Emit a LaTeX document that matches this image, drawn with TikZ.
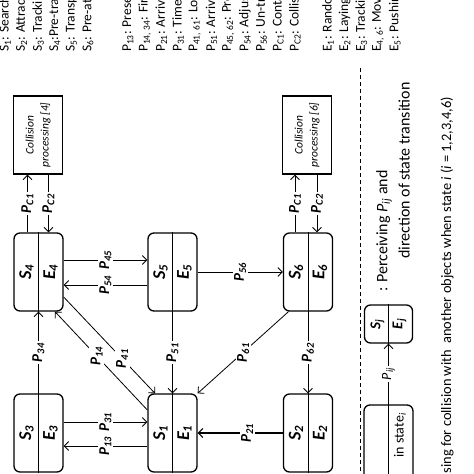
\documentclass[tikz,border=0pt]{standalone}
\usepackage{fontspec}
\setmainfont{Carlito}
\usetikzlibrary{arrows.meta}
\begin{document}
\begin{tikzpicture}[x=1pt,y=-1pt,
  statebox/.style={draw,line width=1.3pt,rounded corners=6pt,minimum width=49pt,minimum height=78pt,inner sep=0pt},
  smallbox/.style={draw,line width=1.3pt,rounded corners=6pt,minimum width=48pt,minimum height=38pt,inner sep=0pt},
  collbox/.style={draw,line width=1.3pt,minimum width=49pt,minimum height=78pt,inner sep=0pt},
  divider/.style={line width=0.8pt},
  arr/.style={-{Straight Barb[length=4.5pt,width=9pt]},line width=0.8pt},
  slab/.style={rotate=90,inner sep=0pt,font=\fontsize{18}{18}\selectfont\bfseries\itshape},
  plab/.style={rotate=90,fill=white,inner sep=1.5pt,font=\fontsize{15}{15}\selectfont\bfseries\itshape},
  ctext/.style={rotate=90,align=center,inner sep=0pt,font=\fontsize{11.5}{15}\selectfont\itshape},
  leg/.style={rotate=90,anchor=west,inner sep=0pt,font=\fontsize{13.5}{13.5}\selectfont},
  note/.style={rotate=90,inner sep=0pt,font=\fontsize{16}{16}\selectfont},
]
\useasboundingbox (0,0) rectangle (474,474);
\clip (0,0) rectangle (474,474);

% state boxes
\node[statebox] (s4) at (38.5,272) {};
\node[statebox] (s5) at (172.5,272) {};
\node[statebox] (s6) at (308,272) {};
\node[statebox] (s3) at (38.5,433) {};
\node[statebox] (s1) at (172.5,433) {};
\node[statebox] (s2) at (308,433) {};
\foreach \n in {s1,s2,s3,s4,s5,s6}{\draw[divider] (\n.north) -- (\n.south);}
\node[slab] (s4l) at ([xshift=-12pt]s4.center) {S\textsubscript{4}};
\node[slab] (e4l) at ([xshift=12pt]s4.center) {E\textsubscript{4}};
\node[slab] (s5l) at ([xshift=-12pt]s5.center) {S\textsubscript{5}};
\node[slab] (e5l) at ([xshift=12pt]s5.center) {E\textsubscript{5}};
\node[slab] (s6l) at ([xshift=-12pt]s6.center) {S\textsubscript{6}};
\node[slab] (e6l) at ([xshift=12pt]s6.center) {E\textsubscript{6}};
\node[slab] (s3l) at ([xshift=-12pt]s3.center) {S\textsubscript{3}};
\node[slab] (e3l) at ([xshift=12pt]s3.center) {E\textsubscript{3}};
\node[slab] (s1l) at ([xshift=-12pt]s1.center) {S\textsubscript{1}};
\node[slab] (e1l) at ([xshift=12pt]s1.center) {E\textsubscript{1}};
\node[slab] (s2l) at ([xshift=-12pt]s2.center) {S\textsubscript{2}};
\node[slab] (e2l) at ([xshift=12pt]s2.center) {E\textsubscript{2}};

% collision boxes
\node[collbox] (c4) at (38,135) {};
\node[ctext] (c4t) at (c4.center) {Collision\\processing [4]};
\node[collbox] (c6) at (307,135) {};
\node[ctext] (c6t) at (c6.center) {Collision\\processing [6]};

% transitions
\draw[arr] (s3.north) -- node[plab]{P\textsubscript{34}} (s4.south);
\draw[arr] ([yshift=11pt]s3.east) -- node[plab]{P\textsubscript{31}} ([yshift=11pt]s1.west);
\draw[arr] ([yshift=-13pt]s1.west) -- node[plab]{P\textsubscript{13}} ([yshift=-13pt]s3.east);
\draw[arr] ([yshift=12pt]s4.east) -- node[plab]{P\textsubscript{45}} ([yshift=12pt]s5.west);
\draw[arr] ([yshift=-13pt]s5.west) -- node[plab]{P\textsubscript{54}} ([yshift=-13pt]s4.east);
\draw[arr] ([yshift=23pt]s1.west) -- node[plab,pos=0.55]{P\textsubscript{14}} ([xshift=16.5pt]s4.south);
\draw[arr] ([yshift=-25pt]s4.east) -- node[plab,pos=0.64]{P\textsubscript{41}} ([xshift=-17.5pt]s1.north);
\draw[arr] (s5.south) -- node[plab]{P\textsubscript{51}} (s1.north);
\draw[arr] ([xshift=-19.5pt]s6.south) -- node[plab]{P\textsubscript{61}} (s1.north east);
\draw[arr] (s5.east) -- node[plab]{P\textsubscript{56}} (s6.west);
\draw[arr] (s6.south) -- node[plab]{P\textsubscript{62}} (s2.north);
\draw[arr,line width=1.1pt] (s2.west) -- node[plab,pos=0.42]{P\textsubscript{21}} (s1.east);

% collision connectors
\coordinate (a4) at ([xshift=-11pt]s4.north);
\coordinate (b4) at ([xshift=10pt]s4.north);
\coordinate (a6) at ([xshift=-13pt]s6.north);
\coordinate (b6) at ([xshift=9pt]s6.north);
\draw[arr] (a4) -- node[plab]{P\textsubscript{C1}} (a4 |- c4.south);
\draw[arr] (b4 |- c4.south) -- node[plab]{P\textsubscript{C2}} (b4);
\draw[arr] (a6) -- node[plab]{P\textsubscript{C1}} (a6 |- c6.south);
\draw[arr] (b6 |- c6.south) -- node[plab]{P\textsubscript{C2}} (b6);

% dashed separator
\coordinate (d1) at (360,68);
\coordinate (d2) at (360,480);
\draw[line width=1pt,dash pattern=on 4pt off 3pt] (d1) -- (d2);

% legend diagram
\node[smallbox] (sj) at (388.5,324) {};
\draw[divider] (sj.north) -- (sj.south);
\node[slab,font=\fontsize{15}{15}\selectfont\bfseries\itshape] (sjl) at ([xshift=-11pt]sj.center) {S\textsubscript{j}};
\node[slab,font=\fontsize{15}{15}\selectfont\bfseries\itshape] (ejl) at ([xshift=11pt]sj.center) {E\textsubscript{j}};
\node[statebox,minimum height=100pt] (si) at (388.5,455) {};
\draw[divider] (si.north) -- (si.south);
\node[rotate=90,anchor=east,inner sep=0pt,font=\fontsize{14}{14}\selectfont] (sit) at (400,413) {in state\textsubscript{\textit{i}}};
\draw[arr] (si.north) -- node[plab,font=\fontsize{14}{14}\selectfont\itshape]{P\textsubscript{ij}} (sj.south);

\node[note,anchor=west] (n1) at (384,292) {: Perceiving \textit{P}\textsubscript{\textit{ij}} and};
\node[note,anchor=west] (n2) at (404,259) {direction of state transition};
\node[rotate=90,anchor=east,inner sep=0pt,font=\fontsize{14.4}{14.4}\selectfont] (n3) at (447,97) {sing for collision with\ \ another objects when state \textit{i} (\textit{i} = 1,2,3,4,6)};

% top legend
\node[leg] (ls1) at (5,52) {S\textsubscript{1}: Search};
\node[leg] (ls2) at (21.6,52) {S\textsubscript{2}: Attrac};
\node[leg] (ls3) at (38.2,52) {S\textsubscript{3}: Tracki};
\node[leg] (ls4) at (54.8,52) {S\textsubscript{4}:Pre-tra};
\node[leg] (ls5) at (71.4,52) {S\textsubscript{5}: Transp};
\node[leg] (ls6) at (88,52) {S\textsubscript{6}: Pre-at};
\node[leg] (lp1) at (128,52) {P\textsubscript{13}: Prese};
\node[leg] (lp2) at (144.7,52) {P\textsubscript{14, 34}: Fir};
\node[leg] (lp3) at (161.4,52) {P\textsubscript{21}: Arrivi};
\node[leg] (lp4) at (178.1,52) {P\textsubscript{31}: Time};
\node[leg] (lp5) at (194.8,52) {P\textsubscript{41, 61}: Lo};
\node[leg] (lp6) at (211.5,52) {P\textsubscript{51}: Arrivi};
\node[leg] (lp7) at (228.2,52) {P\textsubscript{45, 62}: Pre};
\node[leg] (lp8) at (244.9,52) {P\textsubscript{54}: Adjus};
\node[leg] (lp9) at (261.6,52) {P\textsubscript{56}: Un-tr};
\node[leg] (lp10) at (278.3,52) {P\textsubscript{C1}: Conta};
\node[leg] (lp11) at (295,52) {P\textsubscript{C2}: Collis};
\node[leg] (le1) at (328,52) {E\textsubscript{1}: Rando};
\node[leg] (le2) at (344.7,52) {E\textsubscript{2}: Laying};
\node[leg] (le3) at (361.4,52) {E\textsubscript{3}: Tracki};
\node[leg] (le4) at (378.1,52) {E\textsubscript{4, 6}: Mov};
\node[leg] (le5) at (394.8,52) {E\textsubscript{5}: Pushin};
\end{tikzpicture}
\end{document}
